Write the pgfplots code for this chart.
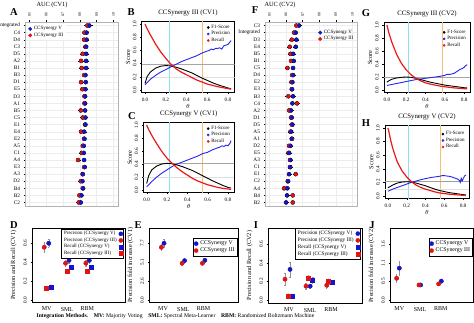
\documentclass[border=0pt]{standalone}
\usepackage{fontspec}
\setmainfont{Liberation Serif}
\usepackage{pgfplots}
\usepackage{pgfplotstable}
\pgfplotsset{compat=1.18}
\definecolor{cb}{rgb}{0.08,0.08,0.80}
\definecolor{cr}{rgb}{0.88,0.08,0.08}
\definecolor{lb}{rgb}{0.15,0.15,0.95}
\definecolor{lr}{rgb}{0.93,0.10,0.10}
\definecolor{cyanl}{rgb}{0.55,0.88,0.95}
\definecolor{orl}{rgb}{0.97,0.75,0.45}
\newcommand{\tf}{\fontsize{5.2}{5.5}\selectfont}
\newcommand{\lf}{\fontsize{5}{5.5}\selectfont}
\newcommand{\labf}{\fontsize{6.3}{6.8}\selectfont}
\newcommand{\ttf}{\fontsize{6.8}{7.2}\selectfont}
\newcommand{\catf}{\fontsize{6}{6.5}\selectfont}

\pgfplotsset{
 base/.style={scale only axis, anchor=south west, /pgf/number format/assume math mode=true,
   tick label style={font=\tf}, label style={font=\labf}, tick align=outside, major tick length=1.5pt,
   every tick/.style={black, line width=0.3pt}, axis line style={line width=0.4pt}},
 rplot/.style={base, xmin=-0.033, xmax=0.863, ymin=-0.04, ymax=1.04,
   xtick={0,0.2,0.4,0.6,0.8}, ytick={0,0.2,0.4,0.6,0.8,1},
   xticklabels={0.0,0.2,0.4,0.6,0.8}, yticklabels={0.0,0.2,0.4,0.6,0.8,1.0},
   yticklabel style={rotate=90}, tick pos=left,
   xlabel={$\theta$}, ylabel={Score}, xlabel style={yshift=4pt}, ylabel style={yshift=-4pt},
   title style={font=\ttf, yshift=-4pt},
   legend style={draw=none, fill=none, font=\lf, at={(0.98,0.985)}, anchor=north east, row sep=-2.4pt, inner sep=0.5pt},
   legend cell align=left},
 cat/.style={base, xtick={1,2,3}, xticklabels={MV,SML,RBM}, xticklabel style={font=\catf},
   yticklabel style={rotate=90}, tick pos=left},
 aucplot/.style={base, xmin=0.474, xmax=1.028, ymin=0.5, ymax=26.5, y dir=reverse,
   xtick={0.5,0.6,0.7,0.8,0.9,1.0}, xticklabels={0.5,0.6,0.7,0.8,0.9,1.0},
   xticklabel pos=right, xtick pos=right, ytick pos=left, ytick={1,...,26},
   xticklabel style={rotate=90, anchor=west, font=\fontsize{3.8}{4}\selectfont},
   yticklabel style={font=\fontsize{5.3}{5.6}\selectfont},
   grid=major, grid style={gray!15, line width=0.3pt}, axis line style={gray!60},
   legend style={draw=none, fill=white, font=\lf, row sep=-2.4pt, inner sep=0.5pt}, legend cell align=left},
 errs/.style={only marks, mark=none, forget plot, gray!85, error bars/.cd, y dir=both, y explicit,
   error bar style={gray!85, line width=0.35pt}, error mark options={rotate=90, gray!85, mark size=0.7pt}},
 boxleg/.style={legend style={font=\lf, anchor=north east, draw=black, line width=0.3pt, inner sep=0.5pt, row sep=-2.4pt}},
}

\pgfplotstableread{
i b r eb er
1 0.857 0.845 0.020 0.018
2 0.841 0.828 0.015 0.015
3 0.841 0.826 0.015 0.015
4 0.838 0.834 0.012 0.012
5 0.838 0.818 0.015 0.015
6 0.838 0.808 0.015 0.018
7 0.838 0.812 0.018 0.018
8 0.834 0.826 0.012 0.012
9 0.836 0.808 0.015 0.015
10 0.834 0.816 0.015 0.015
11 0.832 0.828 0.012 0.012
12 0.832 0.828 0.012 0.012
13 0.832 0.806 0.012 0.015
14 0.834 0.818 0.015 0.015
15 0.834 0.832 0.012 0.012
16 0.826 0.808 0.015 0.015
17 0.828 0.826 0.012 0.012
18 0.824 0.818 0.012 0.012
19 0.824 0.812 0.012 0.015
20 0.826 0.790 0.012 0.015
21 0.830 0.826 0.012 0.012
22 0.818 0.818 0.012 0.012
23 0.816 0.806 0.012 0.015
24 0.820 0.818 0.012 0.012
25 0.810 0.798 0.015 0.015
26 0.806 0.794 0.015 0.015
}\dA

\pgfplotstableread{
i b r eb er
1 0.679 0.663 0.015 0.015
2 0.659 0.649 0.015 0.015
3 0.663 0.635 0.015 0.015
4 0.659 0.623 0.015 0.015
5 0.643 0.627 0.015 0.015
6 0.647 0.631 0.015 0.015
7 0.643 0.609 0.012 0.012
8 0.643 0.637 0.015 0.015
9 0.639 0.633 0.012 0.012
10 0.637 0.635 0.012 0.012
11 0.643 0.615 0.015 0.020
12 0.639 0.667 0.015 0.015
13 0.631 0.619 0.015 0.015
14 0.635 0.631 0.012 0.012
15 0.639 0.635 0.015 0.015
16 0.631 0.627 0.015 0.015
17 0.635 0.637 0.012 0.012
18 0.627 0.619 0.015 0.015
19 0.619 0.615 0.015 0.015
20 0.627 0.625 0.015 0.015
21 0.625 0.625 0.015 0.015
22 0.619 0.659 0.015 0.015
23 0.613 0.611 0.012 0.012
24 0.609 0.589 0.012 0.012
25 0.607 0.641 0.015 0.015
26 0.601 0.641 0.015 0.012
}\dF

\begin{document}
\begin{tikzpicture}
\useasboundingbox (0pt,0pt) rectangle (474pt,323pt);

% ---------------- A ----------------
\begin{axis}[aucplot, at={(25pt,117pt)}, width=93pt, height=184pt,
  yticklabels={Integrated,C4,D4,C3,D5,A2,B1,B3,D1,E5,D3,A1,B5,C5,E1,E4,E2,A5,C1,A4,E3,A3,D2,B4,B2,C2},
  legend style={at={(0.03,0.99)}, anchor=north west}]
\addplot[only marks, mark=none, forget plot, black, error bars/.cd, x dir=both, x explicit, error bar style={black, line width=0.3pt}, error mark=none] table[x=r, y=i, x error=er] {\dA};
\addplot[only marks, mark=none, forget plot, black, error bars/.cd, x dir=both, x explicit, error bar style={black, line width=0.3pt}, error mark=none] table[x=b, y=i, x error=eb] {\dA};
\addplot[only marks, mark=*, mark size=1.9pt, cr, forget plot] table[x=r, y=i] {\dA};
\addplot[only marks, mark=*, mark size=1.9pt, cb, forget plot] table[x=b, y=i] {\dA};
\addlegendimage{only marks, mark=*, mark size=1.7pt, cb}
\addlegendentry{CCSynergy V}
\addlegendimage{only marks, mark=*, mark size=1.7pt, cr}
\addlegendentry{CCSynergy III}
\end{axis}
\node[font=\labf] at (52pt,318pt) {AUC (CV1)};

% ---------------- F ----------------
\begin{axis}[aucplot, at={(265pt,117pt)}, width=92pt, height=184pt,
  yticklabels={C3,Integrated,D3,E4,B5,B1,C5,D4,E2,E3,B3,C4,A2,D1,D5,A5,A1,D2,E5,A3,C1,E1,C2,A4,B4,B2},
  legend style={at={(0.99,0.97)}, anchor=north east, fill=none}]
\addplot[only marks, mark=none, forget plot, black, error bars/.cd, x dir=both, x explicit, error bar style={black, line width=0.3pt}, error mark=none] table[x=r, y=i, x error=er] {\dF};
\addplot[only marks, mark=none, forget plot, black, error bars/.cd, x dir=both, x explicit, error bar style={black, line width=0.3pt}, error mark=none] table[x=b, y=i, x error=eb] {\dF};
\addplot[only marks, mark=*, mark size=1.9pt, cr, forget plot] table[x=r, y=i] {\dF};
\addplot[only marks, mark=*, mark size=1.9pt, cb, forget plot] table[x=b, y=i] {\dF};
\addlegendimage{only marks, mark=*, mark size=1.7pt, cb}
\addlegendentry{CCSynergy V}
\addlegendimage{only marks, mark=*, mark size=1.7pt, cr}
\addlegendentry{CCSynergy III}
\end{axis}
\node[font=\labf] at (280pt,318pt) {AUC (CV2)};

% ---------------- B ----------------
\begin{axis}[rplot, at={(141.6pt,230.4pt)}, width=92.9pt, height=71.2pt, title={CCSynergy III (CV1)}]
\addplot[cyanl, line width=0.5pt, forget plot] coordinates {(0.23,-0.04) (0.23,1.04)};
\addplot[orl, line width=0.5pt, forget plot] coordinates {(0.55,-0.04) (0.55,1.04)};
\addplot[gray!25, line width=0.4pt, forget plot] coordinates {(-0.033,0.2) (0.863,0.2)};
\addplot[gray!70, line width=0.6pt, forget plot] coordinates {(-0.033,0.39) (0.863,0.39)};
\addplot[lb, line width=0.9pt, forget plot] coordinates {(0,0.08) (0.02,0.11) (0.05,0.16) (0.1,0.22) (0.15,0.27) (0.2,0.31) (0.25,0.35) (0.3,0.39) (0.35,0.43) (0.4,0.46) (0.45,0.49) (0.5,0.52) (0.55,0.56) (0.6,0.59) (0.62,0.60) (0.64,0.62) (0.66,0.61) (0.68,0.63) (0.7,0.63) (0.72,0.64) (0.74,0.62) (0.76,0.67) (0.78,0.68) (0.8,0.69) (0.81,0.71) (0.82,0.73) (0.83,0.75)};
\addplot[black, line width=0.9pt, forget plot] coordinates {(0,0.1) (0.02,0.2) (0.05,0.27) (0.1,0.33) (0.15,0.36) (0.2,0.37) (0.25,0.365) (0.3,0.345) (0.35,0.32) (0.4,0.29) (0.45,0.26) (0.5,0.22) (0.55,0.18) (0.6,0.145) (0.65,0.11) (0.7,0.08) (0.75,0.055) (0.8,0.03) (0.83,0.02)};
\addplot[lr, line width=1.2pt, forget plot] coordinates {(0,1.0) (0.02,0.93) (0.05,0.84) (0.1,0.70) (0.15,0.58) (0.2,0.48) (0.25,0.39) (0.3,0.32) (0.35,0.27) (0.4,0.23) (0.45,0.19) (0.5,0.15) (0.55,0.12) (0.6,0.09) (0.65,0.07) (0.7,0.05) (0.75,0.035) (0.8,0.02) (0.83,0.012)};
\addlegendimage{only marks, mark=*, mark size=1.1pt, black}\addlegendentry{F1-Score}
\addlegendimage{only marks, mark=*, mark size=1.1pt, lb}\addlegendentry{Precision}
\addlegendimage{only marks, mark=*, mark size=1.1pt, lr}\addlegendentry{Recall}
\end{axis}

% ---------------- C ----------------
\begin{axis}[rplot, at={(143.3pt,130.4pt)}, width=91.1pt, height=70.2pt, title={CCSynergy V (CV1)}]
\addplot[cyanl, line width=0.5pt, forget plot] coordinates {(0.22,-0.04) (0.22,1.04)};
\addplot[orl, line width=0.5pt, forget plot] coordinates {(0.55,-0.04) (0.55,1.04)};
\addplot[gray!25, line width=0.4pt, forget plot] coordinates {(-0.033,0.2) (0.863,0.2)};
\addplot[gray!70, line width=0.6pt, forget plot] coordinates {(-0.033,0.41) (0.863,0.41)};
\addplot[lb, line width=0.9pt, forget plot] coordinates {(0,0.05) (0.02,0.08) (0.05,0.13) (0.1,0.2) (0.15,0.26) (0.2,0.31) (0.25,0.36) (0.3,0.40) (0.35,0.43) (0.4,0.46) (0.45,0.49) (0.5,0.52) (0.55,0.56) (0.6,0.58) (0.65,0.62) (0.7,0.65) (0.72,0.66) (0.74,0.68) (0.76,0.67) (0.78,0.69) (0.8,0.68) (0.82,0.72) (0.83,0.76)};
\addplot[black, line width=0.9pt, forget plot] coordinates {(0,0.1) (0.02,0.22) (0.05,0.31) (0.1,0.37) (0.15,0.40) (0.2,0.41) (0.25,0.405) (0.3,0.385) (0.35,0.36) (0.4,0.33) (0.45,0.30) (0.5,0.26) (0.55,0.22) (0.6,0.18) (0.65,0.14) (0.7,0.105) (0.75,0.07) (0.8,0.04) (0.83,0.03)};
\addplot[lr, line width=1.2pt, forget plot] coordinates {(0,1.0) (0.02,0.93) (0.05,0.84) (0.1,0.71) (0.15,0.59) (0.2,0.49) (0.25,0.41) (0.3,0.34) (0.35,0.28) (0.4,0.23) (0.45,0.18) (0.5,0.14) (0.55,0.11) (0.6,0.08) (0.65,0.06) (0.7,0.04) (0.75,0.025) (0.8,0.015) (0.83,0.01)};
\addlegendimage{only marks, mark=*, mark size=1.1pt, black}\addlegendentry{F1-Score}
\addlegendimage{only marks, mark=*, mark size=1.1pt, lb}\addlegendentry{Precision}
\addlegendimage{only marks, mark=*, mark size=1.1pt, lr}\addlegendentry{Recall}
\end{axis}

% ---------------- G ----------------
\begin{axis}[rplot, at={(383.7pt,230.4pt)}, width=86.6pt, height=70.2pt, title={CCSynergy III (CV2)}, legend style={at={(0.98,0.93)}}]
\addplot[cyanl, line width=0.5pt, forget plot] coordinates {(0.22,-0.04) (0.22,1.04)};
\addplot[orl, line width=0.5pt, forget plot] coordinates {(0.57,-0.04) (0.57,1.04)};
\addplot[gray!70, line width=0.6pt, forget plot] coordinates {(-0.033,0.2) (0.863,0.2)};
\addplot[lb, line width=0.9pt, forget plot] coordinates {(0,0.07) (0.05,0.085) (0.1,0.1) (0.15,0.115) (0.2,0.13) (0.25,0.145) (0.3,0.16) (0.35,0.17) (0.4,0.18) (0.45,0.19) (0.5,0.2) (0.55,0.21) (0.6,0.225) (0.62,0.24) (0.65,0.24) (0.68,0.25) (0.7,0.26) (0.72,0.28) (0.74,0.30) (0.76,0.32) (0.78,0.33) (0.8,0.35) (0.81,0.37) (0.82,0.38) (0.83,0.39)};
\addplot[black, line width=0.9pt, forget plot] coordinates {(0,0.12) (0.03,0.15) (0.05,0.165) (0.1,0.185) (0.15,0.195) (0.2,0.2) (0.25,0.195) (0.3,0.18) (0.35,0.16) (0.4,0.14) (0.45,0.12) (0.5,0.105) (0.55,0.09) (0.6,0.075) (0.65,0.065) (0.7,0.055) (0.75,0.045) (0.8,0.035) (0.83,0.032)};
\addplot[lr, line width=1.2pt, forget plot] coordinates {(0,1.0) (0.02,0.88) (0.05,0.74) (0.1,0.55) (0.15,0.41) (0.2,0.31) (0.25,0.235) (0.3,0.18) (0.35,0.14) (0.4,0.11) (0.45,0.09) (0.5,0.075) (0.55,0.06) (0.6,0.05) (0.65,0.04) (0.7,0.032) (0.75,0.026) (0.8,0.02) (0.83,0.018)};
\addlegendimage{only marks, mark=*, mark size=1.1pt, black}\addlegendentry{F1-Score}
\addlegendimage{only marks, mark=*, mark size=1.1pt, lb}\addlegendentry{Precision}
\addlegendimage{only marks, mark=*, mark size=1.1pt, lr}\addlegendentry{Recall}
\end{axis}

% ---------------- H ----------------
\begin{axis}[rplot, at={(384.8pt,124.3pt)}, width=84.2pt, height=73.4pt, title={CCSynergy V (CV2)}, legend style={at={(0.98,0.95)}}]
\addplot[cyanl, line width=0.5pt, forget plot] coordinates {(0.22,-0.04) (0.22,1.04)};
\addplot[orl, line width=0.5pt, forget plot] coordinates {(0.56,-0.04) (0.56,1.04)};
\addplot[gray!25, line width=0.4pt, forget plot] coordinates {(-0.033,0.1) (0.863,0.1)};
\addplot[gray!75, line width=0.8pt, forget plot] coordinates {(-0.033,0.21) (0.863,0.21)};
\addplot[lb, line width=0.9pt, forget plot] coordinates {(0,0.07) (0.05,0.1) (0.1,0.125) (0.15,0.15) (0.2,0.175) (0.25,0.2) (0.3,0.22) (0.35,0.24) (0.4,0.255) (0.45,0.27) (0.5,0.28) (0.55,0.29) (0.58,0.3) (0.6,0.3) (0.62,0.295) (0.65,0.29) (0.68,0.28) (0.7,0.27) (0.72,0.26) (0.74,0.25) (0.76,0.23) (0.77,0.2) (0.78,0.26) (0.79,0.22) (0.8,0.25) (0.81,0.28) (0.82,0.3) (0.83,0.31)};
\addplot[black, line width=0.9pt, forget plot] coordinates {(0,0.12) (0.05,0.16) (0.1,0.19) (0.15,0.205) (0.2,0.21) (0.25,0.205) (0.3,0.19) (0.35,0.17) (0.4,0.15) (0.45,0.125) (0.5,0.1) (0.55,0.08) (0.6,0.065) (0.65,0.05) (0.7,0.04) (0.75,0.03) (0.8,0.02) (0.83,0.015)};
\addplot[lr, line width=1.2pt, forget plot] coordinates {(0,1.0) (0.01,0.95) (0.02,0.88) (0.03,0.82) (0.05,0.71) (0.075,0.6) (0.1,0.5) (0.15,0.37) (0.2,0.28) (0.25,0.21) (0.3,0.16) (0.35,0.125) (0.4,0.1) (0.45,0.08) (0.5,0.06) (0.55,0.045) (0.6,0.035) (0.65,0.027) (0.7,0.02) (0.75,0.015) (0.8,0.01) (0.83,0.008)};
\addlegendimage{only marks, mark=*, mark size=1.1pt, black}\addlegendentry{F1-Score}
\addlegendimage{only marks, mark=*, mark size=1.1pt, lb}\addlegendentry{Precision}
\addlegendimage{only marks, mark=*, mark size=1.1pt, lr}\addlegendentry{Recall}
\end{axis}

% ---------------- D ----------------
\begin{axis}[cat, boxleg, at={(32pt,21pt)}, width=93pt, height=74pt, xmin=0.276, xmax=4.86, ymin=-0.018, ymax=0.761,
  ytick={0,0.2,0.4,0.6}, yticklabels={0.0,0.2,0.4,0.6}, ylabel={Precision and Recall (CV1)},
  legend plot pos=right, legend cell align=left, legend style={at={(0.985,0.99)}}]
\addplot[errs] coordinates {(1.1,0.60) +- (0,0.04) (2.1,0.42) +- (0,0.025) (3.1,0.42) +- (0,0.025)};
\addplot[errs] coordinates {(0.88,0.558) +- (0,0.05) (1.93,0.39) +- (0,0.03) (2.93,0.39) +- (0,0.03)};
\addplot[errs] coordinates {(1.2,0.14) +- (0,0.01) (2.2,0.343) +- (0,0.02) (3.2,0.343) +- (0,0.02)};
\addplot[errs] coordinates {(1.0,0.126) +- (0,0.01) (2.0,0.305) +- (0,0.02) (3.0,0.305) +- (0,0.02)};
\addplot[only marks, mark=*, mark size=2.1pt, cb] coordinates {(1.1,0.60) (2.1,0.42) (3.1,0.42)};
\addlegendentry{Precision (CCSynergy V)}
\addplot[only marks, mark=*, mark size=2.1pt, cr] coordinates {(0.88,0.558) (1.93,0.39) (2.93,0.39)};
\addlegendentry{Precision (CCSynergy III)}
\addplot[only marks, mark=square*, mark size=2pt, cb] coordinates {(1.2,0.14) (2.2,0.343) (3.2,0.343)};
\addlegendentry{Recall (CCSynergy V)}
\addplot[only marks, mark=square*, mark size=2pt, cr] coordinates {(1.0,0.126) (2.0,0.305) (3.0,0.305)};
\addlegendentry{Recall (CCSynergy III)}
\end{axis}

% ---------------- E ----------------
\begin{axis}[cat, boxleg, at={(149pt,21pt)}, width=89pt, height=74pt, xmin=0.31, xmax=4.69, ymin=-0.23, ymax=9.76,
  ytick={0,2.564,5.128,7.692}, yticklabels={0.0,2.6,5.1,7.7}, ylabel={Precision fold increase (CV1)},
  legend cell align=left, legend style={at={(0.99,0.86)}, font=\fontsize{5.8}{6.3}\selectfont}]
\addplot[errs] coordinates {(1.05,7.7) +- (0,0.6) (2.06,5.35) +- (0,0.3) (3.06,5.4) +- (0,0.3)};
\addplot[errs] coordinates {(0.92,7.15) +- (0,0.4) (1.94,5.0) +- (0,0.25) (2.94,5.0) +- (0,0.25)};
\addplot[only marks, mark=*, mark size=2.1pt, cb] coordinates {(1.05,7.7) (2.06,5.35) (3.06,5.4)};
\addlegendentry{CCSynergy V}
\addplot[only marks, mark=*, mark size=2.1pt, cr] coordinates {(0.92,7.15) (1.94,5.0) (2.94,5.0)};
\addlegendentry{CCSynergy III}
\end{axis}

% ---------------- I ----------------
\begin{axis}[cat, boxleg, at={(268pt,20pt)}, width=94pt, height=75pt, xmin=0, xmax=4.48, ymin=-0.03, ymax=0.774,
  ytick={0,0.2,0.4,0.6}, yticklabels={0.0,0.2,0.4,0.6}, ylabel={Precision and Recall (CV2)},
  legend plot pos=right, legend cell align=left, legend style={at={(0.985,0.995)}, font=\fontsize{5.3}{5.8}\selectfont}]
\addplot[errs] coordinates {(1.05,0.33) +- (0,0.08) (2.01,0.15) +- (0,0.02) (2.95,0.197) +- (0,0.03)};
\addplot[errs] coordinates {(0.81,0.225) +- (0,0.06) (1.81,0.15) +- (0,0.03) (2.8,0.16) +- (0,0.03)};
\addplot[errs] coordinates {(1.16,0.04) +- (0,0.01) (2.13,0.215) +- (0,0.03) (3.08,0.19) +- (0,0.02)};
\addplot[errs] coordinates {(0.97,0.046) +- (0,0.01) (1.92,0.24) +- (0,0.03) (2.87,0.207) +- (0,0.02)};
\addplot[only marks, mark=*, mark size=2.1pt, cb] coordinates {(1.05,0.33) (2.01,0.15) (2.95,0.197)};
\addlegendentry{Precision (CCSynergy V)}
\addplot[only marks, mark=*, mark size=2.1pt, cr] coordinates {(0.81,0.225) (1.81,0.15) (2.8,0.16)};
\addlegendentry{Precision (CCSynergy III)}
\addplot[only marks, mark=square*, mark size=2pt, cb] coordinates {(1.16,0.04) (2.13,0.215) (3.08,0.19)};
\addlegendentry{Recall (CCSynergy V)}
\addplot[only marks, mark=square*, mark size=2pt, cr] coordinates {(0.97,0.046) (1.92,0.24) (2.87,0.207)};
\addlegendentry{Recall (CCSynergy III)}
\end{axis}

% ---------------- J ----------------
\begin{axis}[cat, boxleg, at={(390pt,21pt)}, width=83pt, height=74pt, xmin=0.55, xmax=4.56, ymin=-0.057, ymax=2.06,
  ytick={0,0.532,1.064,1.596}, yticklabels={0.0,0.5,1.1,1.6}, ylabel={Precision fold increase (CV2)},
  legend cell align=left, legend style={at={(0.995,0.86)}, font=\fontsize{5.8}{6.3}\selectfont}]
\addplot[errs] coordinates {(1.0,0.91) +- (0,0.2) (2.03,0.43) +- (0,0.03) (3.03,0.54) +- (0,0.05)};
\addplot[errs] coordinates {(0.87,0.62) +- (0,0.12) (1.95,0.43) +- (0,0.03) (2.9,0.46) +- (0,0.04)};
\addplot[only marks, mark=*, mark size=2.1pt, cb] coordinates {(1.0,0.91) (2.03,0.43) (3.03,0.54)};
\addlegendentry{CCSynergy V}
\addplot[only marks, mark=*, mark size=2.1pt, cr] coordinates {(0.87,0.62) (1.95,0.43) (2.9,0.46)};
\addlegendentry{CCSynergy III}
\end{axis}

% panel letters
\begin{scope}[every node/.style={font=\fontsize{10.5}{10.5}\selectfont\bfseries}]
\node at (14pt,311pt) {A};
\node at (131pt,311pt) {B};
\node at (132pt,207pt) {C};
\node at (14pt,98pt) {D};
\node at (138pt,98pt) {E};
\node at (255pt,313pt) {F};
\node at (366pt,310pt) {G};
\node at (366pt,200pt) {H};
\node at (256pt,98pt) {I};
\node at (372pt,98pt) {J};
\end{scope}

\node[anchor=west, font=\fontsize{5.7}{6}\selectfont] at (33pt,7pt) {\textbf{Integration Methods.}\quad \textbf{MV:} Majority Voting\quad \textbf{SML:} Spectral Meta-Learner\quad \textbf{RBM:} Randomized Boltzmann Machine};
\end{tikzpicture}
\end{document}
